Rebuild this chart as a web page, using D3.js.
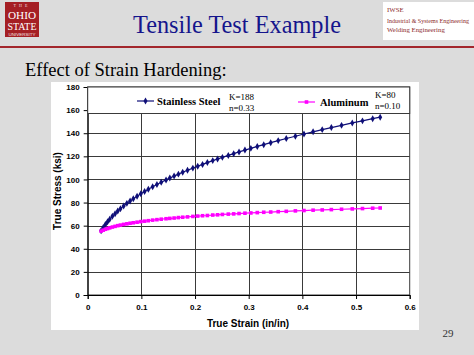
<!DOCTYPE html>
<html>
<head>
<meta charset="utf-8">
<script src="https://cdn.jsdelivr.net/npm/d3@7"></script>
<style>
  html, body { margin: 0; padding: 0; background: #dcdcdc; }
  svg { display: block; }
</style>
</head>
<body>
<svg id="chart" width="474" height="355"></svg>
<script>
// ---- data ----
const strain = [0.025,0.029,0.033,0.037,0.041,0.046,0.051,0.056,0.061,0.067,0.073,0.079,0.085,0.092,0.099,0.106,0.113,0.121,0.129,0.137,0.146,0.153,0.161,0.169,0.177,0.186,0.196,0.205,0.214,0.223,0.233,0.242,0.251,0.262,0.272,0.282,0.293,0.304,0.316,0.328,0.341,0.355,0.370,0.387,0.403,0.420,0.437,0.454,0.473,0.493,0.512,0.531,0.545];
const stainlessStress = [55.6,58.5,61.0,63.3,65.5,68.1,70.4,72.6,74.7,77.0,79.3,81.3,83.3,85.5,87.6,89.6,91.6,93.6,95.6,97.5,99.6,101.2,102.9,104.6,106.2,107.9,109.8,111.4,113.0,114.6,116.3,117.7,119.1,120.8,122.3,123.8,125.4,126.9,128.6,130.1,131.8,133.6,135.4,137.4,139.3,141.2,143.1,144.9,146.8,148.9,150.7,152.6,153.9];
const aluminumStress = [55.3,56.1,56.9,57.5,58.1,58.8,59.4,60.0,60.5,61.1,61.6,62.1,62.5,63.0,63.5,63.9,64.3,64.8,65.2,65.6,66.0,66.3,66.6,67.0,67.3,67.6,68.0,68.3,68.6,68.8,69.2,69.4,69.7,70.0,70.2,70.5,70.8,71.0,71.3,71.6,71.8,72.1,72.4,72.8,73.1,73.4,73.6,73.9,74.2,74.5,74.8,75.1,75.3];
const seriesNames = ["Stainless Steel", "Aluminum"];
const seriesParams = [["K=188", "n=0.33"], ["K=80", "n=0.10"]];
const xTicks = [0, 0.1, 0.2, 0.3, 0.4, 0.5, 0.6];
const yTicks = [0, 20, 40, 60, 80, 100, 120, 140, 160, 180];

const svg = d3.select("#chart");

// ---- slide decoration ----
svg.append("rect").attr("x", 0).attr("y", 0).attr("width", 474).attr("height", 355).attr("fill", "#dcdcdc");

// OSU logo
const logo = svg.append("g");
logo.append("rect").attr("x", 5).attr("y", 2).attr("width", 34).attr("height", 35).attr("fill", "#a51f24");
logo.append("text").attr("x", 22).attr("y", 7).attr("text-anchor", "middle")
  .attr("font-family", "Liberation Serif").attr("font-size", 4).attr("fill", "#f3e3e3")
  .attr("letter-spacing", 3).text("THE");
logo.append("text").attr("x", 22).attr("y", 18.5).attr("text-anchor", "middle")
  .attr("font-family", "Liberation Serif").attr("font-size", 10.5).attr("fill", "#ffffff")
  .attr("textLength", 28).attr("lengthAdjust", "spacingAndGlyphs").text("OHIO");
logo.append("text").attr("x", 22).attr("y", 30).attr("text-anchor", "middle")
  .attr("font-family", "Liberation Serif").attr("font-size", 10.5).attr("fill", "#ffffff")
  .attr("textLength", 29).attr("lengthAdjust", "spacingAndGlyphs").text("STATE");
logo.append("text").attr("x", 22).attr("y", 35.6).attr("text-anchor", "middle")
  .attr("font-family", "Liberation Sans").attr("font-size", 3.4).attr("fill", "#f3e3e3")
  .attr("textLength", 27).attr("lengthAdjust", "spacingAndGlyphs").text("UNIVERSITY");

// Title
svg.append("text").attr("x", 237).attr("y", 33).attr("text-anchor", "middle")
  .attr("font-family", "Liberation Serif").attr("font-size", 26).attr("fill", "#15158c")
  .attr("textLength", 208).attr("lengthAdjust", "spacingAndGlyphs")
  .text("Tensile Test Example");

// IWSE box
svg.append("rect").attr("x", 383).attr("y", 2).attr("width", 91).attr("height", 38).attr("fill", "#ffffff");
const iw = svg.append("g").attr("font-family", "Liberation Serif").attr("fill", "#8c2a2a");
iw.append("text").attr("x", 387).attr("y", 12).attr("font-size", 6.8).text("IWSE");
iw.append("text").attr("x", 387).attr("y", 23).attr("font-size", 5.9).attr("textLength", 82).attr("lengthAdjust", "spacingAndGlyphs").text("Industrial & Systems Engineering");
iw.append("text").attr("x", 387).attr("y", 32).attr("font-size", 6.8).text("Welding Engineering");

// red rule
svg.append("line").attr("x1", 0).attr("x2", 474).attr("y1", 47).attr("y2", 47)
  .attr("stroke", "#a3262c").attr("stroke-width", 2);

// subtitle
svg.append("text").attr("x", 25).attr("y", 76)
  .attr("font-family", "Liberation Serif").attr("font-size", 18.5).attr("fill", "#000")
  .text("Effect of Strain Hardening:");

// page number
svg.append("text").attr("x", 448).attr("y", 337).attr("text-anchor", "middle")
  .attr("font-family", "Liberation Serif").attr("font-size", 11).attr("fill", "#333")
  .text("29");

// ---- chart panel ----
svg.append("rect").attr("x", 51).attr("y", 82).attr("width", 368).attr("height", 248).attr("fill", "#ffffff");

const x = d3.scaleLinear().domain([0, 0.6]).range([87.7, 409.7]);
const y = d3.scaleLinear().domain([0, 180]).range([295, 87]);

const legendBottom = 113.5;

// gridlines
const grid = svg.append("g").attr("stroke", "#3a3a3a").attr("stroke-width", 1);
yTicks.filter(v => v > 0 && y(v) > legendBottom).forEach(v => {
  grid.append("line").attr("x1", x(0)).attr("x2", x(0.6)).attr("y1", Math.round(y(v)) + 0.5).attr("y2", Math.round(y(v)) + 0.5);
});
xTicks.filter(v => v > 0 && v < 0.6).forEach(v => {
  grid.append("line").attr("x1", Math.round(x(v)) + 0.5).attr("x2", Math.round(x(v)) + 0.5).attr("y1", y(0)).attr("y2", legendBottom);
});

// plot border
svg.append("rect").attr("x", x(0)).attr("y", y(180)).attr("width", x(0.6) - x(0)).attr("height", y(0) - y(180))
  .attr("fill", "none").attr("stroke", "#3a3a3a").attr("stroke-width", 1);

// axes
const xAxis = d3.axisBottom(x).tickValues(xTicks).tickSize(4).tickFormat(d => d === 0 ? "0" : d3.format(".1f")(d));
const yAxis = d3.axisLeft(y).tickValues(yTicks).tickSize(4).tickFormat(d3.format("d"));
const gx = svg.append("g").attr("transform", `translate(0,${y(0)})`).call(xAxis);
const gy = svg.append("g").attr("transform", `translate(${x(0)},0)`).call(yAxis);
[gx, gy].forEach(g => {
  g.select(".domain").attr("stroke", "#000");
  g.selectAll(".tick line").attr("stroke", "#000");
  g.selectAll(".tick text").attr("font-family", "Liberation Sans").attr("font-weight", "bold")
    .attr("font-size", 8).attr("fill", "#000");
});
gx.selectAll(".tick text").attr("dy", "0.95em");
gy.selectAll(".tick text").attr("dx", "-1px");

// axis titles
svg.append("text").attr("x", 248).attr("y", 327).attr("text-anchor", "middle")
  .attr("font-family", "Liberation Sans").attr("font-weight", "bold").attr("font-size", 10)
  .text("True Strain (in/in)");
svg.append("text").attr("transform", `translate(61,${y(90)}) rotate(-90)`).attr("text-anchor", "middle")
  .attr("font-family", "Liberation Sans").attr("font-weight", "bold").attr("font-size", 10)
  .text("True Stress (ksi)");

// ---- series ----
const colors = ["#0f0f78", "#ff00ff"];
const seriesData = [stainlessStress, aluminumStress];
const line = d3.line().x(d => x(d[0])).y(d => y(d[1]));
const diamond = d3.symbol().type(d3.symbolDiamond).size(14);

seriesData.forEach((vals, i) => {
  const pts = strain.map((s, j) => [s, vals[j]]);
  svg.append("path").datum(pts).attr("d", line).attr("fill", "none")
    .attr("stroke", colors[i]).attr("stroke-width", 1.2);
  const g = svg.append("g");
  if (i === 0) {
    g.selectAll("path").data(pts).join("path")
      .attr("transform", d => `translate(${x(d[0])},${y(d[1])})`)
      .attr("d", diamond).attr("fill", colors[i]);
  } else {
    g.selectAll("rect").data(pts).join("rect")
      .attr("x", d => x(d[0]) - 1.8).attr("y", d => y(d[1]) - 1.8)
      .attr("width", 3.6).attr("height", 3.6).attr("fill", colors[i]);
  }
});

// ---- legend ----
svg.append("rect").attr("x", x(0)).attr("y", y(180)).attr("width", x(0.6) - x(0)).attr("height", legendBottom - y(180))
  .attr("fill", "#ffffff").attr("stroke", "#3a3a3a").attr("stroke-width", 1);

const legendItems = [
  { lx: 137, ly: 101, tx: 157, ty: 105, px: 229, py1: 100, py2: 111 },
  { lx: 298, ly: 102, tx: 320, ty: 106, px: 375, py1: 98, py2: 109 }
];
legendItems.forEach((it, i) => {
  svg.append("line").attr("x1", it.lx).attr("x2", it.lx + 17).attr("y1", it.ly).attr("y2", it.ly)
    .attr("stroke", colors[i]).attr("stroke-width", 1.2);
  if (i === 0) {
    svg.append("path").attr("transform", `translate(${it.lx + 8.5},${it.ly})`).attr("d", diamond).attr("fill", colors[i]);
  } else {
    svg.append("rect").attr("x", it.lx + 8.5 - 1.8).attr("y", it.ly - 1.8).attr("width", 3.6).attr("height", 3.6).attr("fill", colors[i]);
  }
  svg.append("text").attr("x", it.tx).attr("y", it.ty)
    .attr("font-family", "Liberation Serif").attr("font-weight", "bold").attr("font-size", 10.5)
    .text(seriesNames[i]);
  svg.append("text").attr("x", it.px).attr("y", it.py1)
    .attr("font-family", "Liberation Serif").attr("font-size", 9).text(seriesParams[i][0]);
  svg.append("text").attr("x", it.px).attr("y", it.py2)
    .attr("font-family", "Liberation Serif").attr("font-size", 9).text(seriesParams[i][1]);
});
</script>
</body>
</html>
